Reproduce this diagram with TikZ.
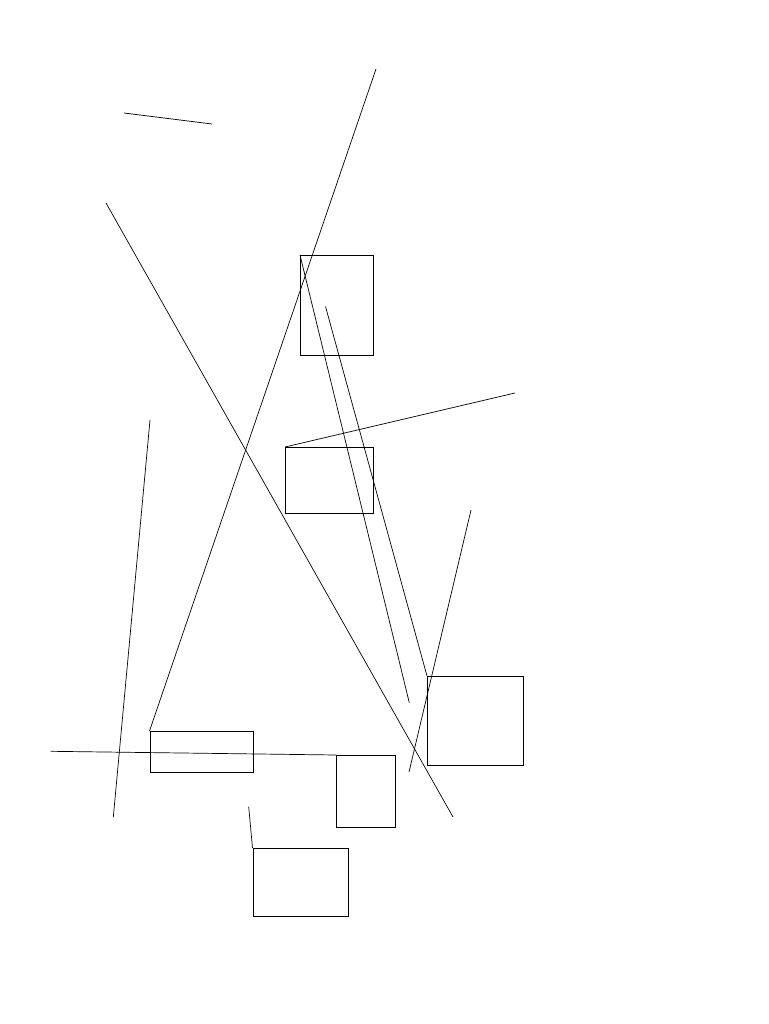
\documentclass[tikz,border=0pt]{standalone}
\usetikzlibrary{positioning}
\tikzset{
  box/.style={draw, line width=0.9pt, inner sep=0pt, anchor=north west},
  seg/.style={line width=0.7pt}
}
\begin{document}
\begin{tikzpicture}[x=1pt, y=-1pt]
		\useasboundingbox (0,0) rectangle (768,1024);
		% boxes
		\node[box, minimum width=73pt, minimum height=100pt] (upper) at (300,255) {};
		\node[box, minimum width=88pt, minimum height=66pt] (middle) at (285,447) {};
		\node[box, minimum width=96pt, minimum height=89pt] (right) at (427,676) {};
		\node[box, minimum width=103pt, minimum height=41pt] (flat) at (149.5,731) {};
		\node[box, minimum width=59pt, minimum height=72pt] (small) at (336.3,755) {};
		\node[box, minimum width=95pt, minimum height=68pt] (bottom) at (252.5,848) {};
		
		% loose ends
		\coordinate (topA) at (124,113);
		\coordinate (topB) at (212,124);
		\coordinate (apex) at (376,69);
		\coordinate (diagA) at (106,203);
		\coordinate (diagB) at (453,817);
		\coordinate (innerA) at (325.5,306.5);
		\coordinate (lowD) at (409.3,702.7);
		\coordinate (farR) at (515,393);
		\coordinate (leftA) at (150,420);
		\coordinate (leftB) at (113.3,817.3);
		\coordinate (riseA) at (471,510);
		\coordinate (riseB) at (409,772);
		\coordinate (farL) at (50.7,751.3);
		\coordinate (stub) at (248.7,806.7);
		
		\draw[seg] (topA) -- (topB);
		\draw[seg] (apex) -- (flat.north west);
		\draw[seg] (diagA) -- (diagB);
		\draw[seg] (upper.north west) -- (lowD);
		\draw[seg] (innerA) -- (right.north west);
		\draw[seg] (middle.north west) -- (farR);
		\draw[seg] (leftA) -- (leftB);
		\draw[seg] (riseA) -- (riseB);
		\draw[seg] (farL) -- (small.north west);
		\draw[seg] (stub) -- (bottom.north west);
\end{tikzpicture}
\end{document}
